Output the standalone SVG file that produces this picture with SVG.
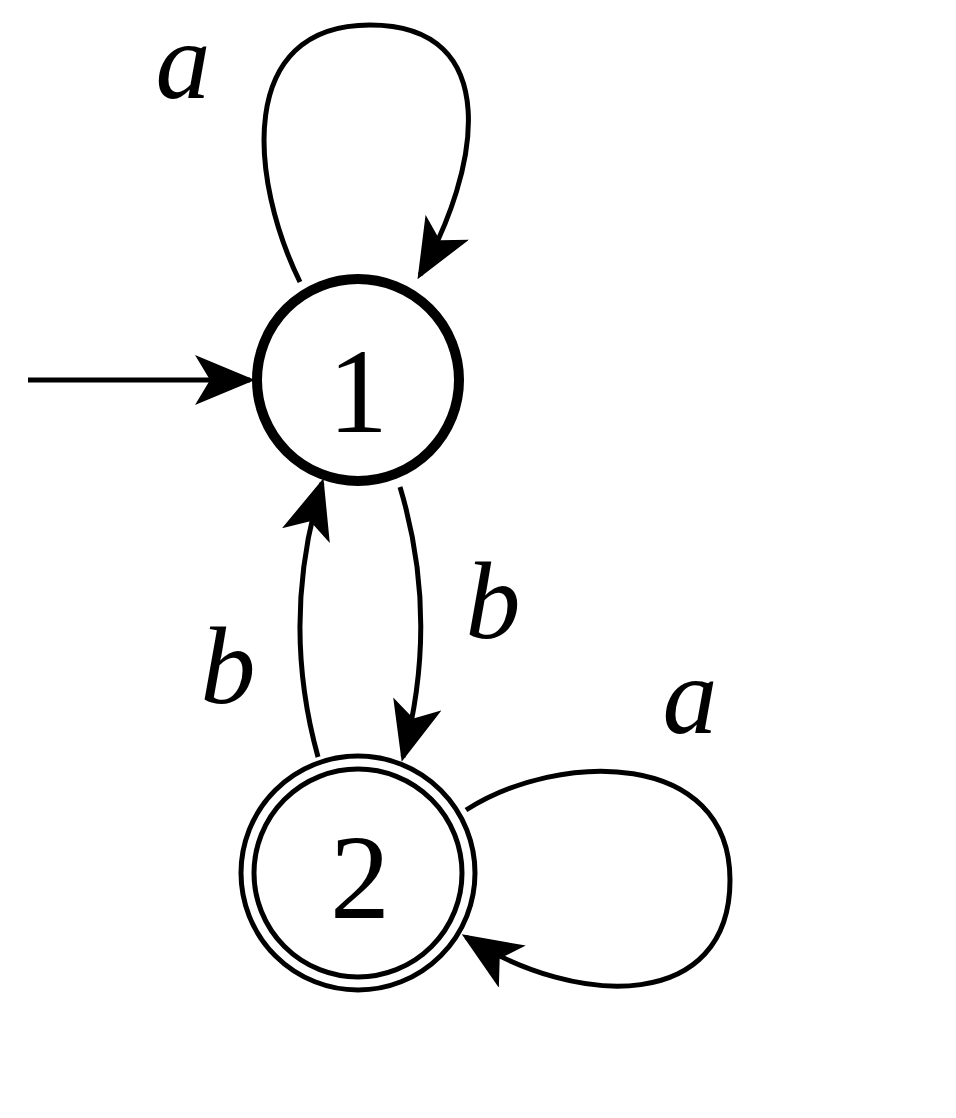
<svg xmlns="http://www.w3.org/2000/svg" width="956" height="1118" viewBox="0 0 956 1118">
<style>
.e{fill:none;stroke:#000;stroke-width:5}
.l{font-family:"Liberation Serif",serif;font-style:italic;font-size:110px;text-anchor:middle}
.n{font-family:"Liberation Serif",serif;font-size:120px;text-anchor:middle}
</style>
<defs><marker id="ah" markerWidth="12" markerHeight="10" refX="11" refY="5" orient="auto" markerUnits="strokeWidth"><path d="M0,0 L12,5 L0,10 L3,5 Z" fill="#000"/></marker></defs>
<rect width="956" height="1118" fill="#fff"/>
<g id="connectors">
<path class="e" d="M28,380 L250,380" marker-end="url(#ah)"/>
<path class="e" d="M300,282 C250,180 235,25 370,25 C505,25 480,170 420,275" marker-end="url(#ah)"/>
<path class="e" d="M400,487 Q440,620 403,757" marker-end="url(#ah)"/>
<path class="e" d="M318,757 Q280,620 322,483" marker-end="url(#ah)"/>
<path class="e" d="M466,810 C560,750 730,750 730,880 C730,1010 580,1010 466,937" marker-end="url(#ah)"/>
<text class="l" x="183" y="98">a</text>
<text class="l" x="493" y="638">b</text>
<text class="l" x="228" y="703">b</text>
<text class="l" x="690" y="733">a</text>
</g>
<g id="node1"><circle cx="358" cy="380" r="101" fill="#fff" stroke="#000" stroke-width="10"/><text class="n" x="358" y="432">1</text></g>
<g id="node2"><circle cx="358" cy="873" r="117" fill="#fff" stroke="#000" stroke-width="5"/><circle cx="358" cy="873" r="104" fill="none" stroke="#000" stroke-width="5"/><text class="n" x="360" y="918">2</text></g>
</svg>
